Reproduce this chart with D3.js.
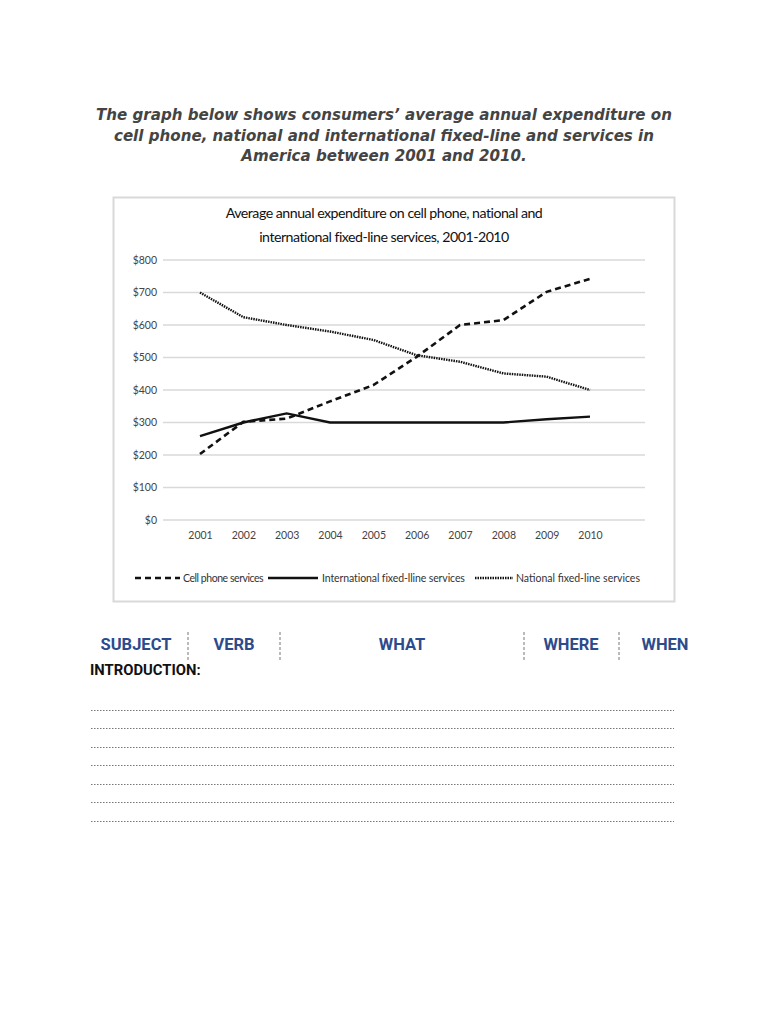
<!DOCTYPE html>
<html><head><meta charset="utf-8">
<script src="https://cdn.jsdelivr.net/npm/d3@7"></script>
<style>body{margin:0;background:#fff}</style>
</head><body>
<svg id="c" width="768" height="1024"></svg>
<script>
const years = [2001,2002,2003,2004,2005,2006,2007,2008,2009,2010];
const cellPhone = [203,302,312,365,415,502,600,615,702,742];
const international = [258,300,328,300,300,300,300,300,310,318];
const national = [700,624,600,580,554,507,487,451,441,400];
const yTicks = [0,100,200,300,400,500,600,700,800];
const seriesNames = ["Cell phone services","International fixed-lline services","National fixed-line services"];
const headers = ["SUBJECT","VERB","WHAT","WHERE","WHEN"];

const svg = d3.select("#c");
// intro text
const intro = ["The graph below shows consumers’ average annual expenditure on",
 "cell phone, national and international fixed-line and services in",
 "America between 2001 and 2010."];
svg.append("g").selectAll("text").data(intro).join("text")
 .attr("x",384).attr("y",(d,i)=>120+i*20.5).attr("text-anchor","middle")
 .attr("font-family","DejaVu Sans").attr("font-weight","bold").attr("font-style","italic")
 .attr("font-size",15.1).attr("fill","#444").text(d=>d);

// chart frame
svg.append("rect").attr("x",113.5).attr("y",197.5).attr("width",561).attr("height",404)
 .attr("fill","#fff").attr("stroke","#d9d9d9").attr("stroke-width",2);
const ct = ["Average annual expenditure on cell phone, national and","international fixed-line services, 2001-2010"];
svg.append("g").selectAll("text").data(ct).join("text")
 .attr("x",384).attr("y",(d,i)=>218+i*24).attr("text-anchor","middle")
 .attr("font-family","Lato").attr("font-size",14.2).attr("letter-spacing",-0.5)
 .attr("fill","#111").text(d=>d);

const x = d3.scalePoint().domain(years).range([200,590]);
const y = d3.scaleLinear().domain([0,800]).range([520,260]);

const grid = svg.append("g");
grid.selectAll("line").data(yTicks).join("line")
 .attr("x1",163).attr("x2",645).attr("y1",d=>y(d)).attr("y2",d=>y(d))
 .attr("stroke","#d9d9d9").attr("stroke-width",1.5);

const yAxis = svg.append("g").attr("transform","translate(163,0)")
 .call(d3.axisLeft(y).tickValues(yTicks).tickFormat(d=>"$"+d).tickSize(0).tickPadding(6));
yAxis.select(".domain").remove();
yAxis.selectAll("text").attr("font-family","Lato").attr("font-size",10.5).attr("fill","#444");

const xAxis = svg.append("g").attr("transform","translate(0,520)")
 .call(d3.axisBottom(x).tickFormat(d=>String(d)).tickSize(0).tickPadding(12));
xAxis.select(".domain").remove();
xAxis.selectAll("text").attr("font-family","Lato").attr("font-size",10.5).attr("fill","#444");

const line = d3.line().x((d,i)=>x(years[i])).y(d=>y(d));
const styles = [
 {data:cellPhone, dash:"6,4", w:2.6},
 {data:international, dash:null, w:2.4},
 {data:national, dash:"1.5,1", w:2.4}
];
styles.forEach(s=>{
 svg.append("path").datum(s.data).attr("d",line).attr("fill","none")
  .attr("stroke","#111").attr("stroke-width",s.w).attr("stroke-dasharray",s.dash);
});

// legend
const leg = [{x1:135,x2:180,tx:183,ls:-0.45},{x1:268,x2:318,tx:322,ls:-0.1},{x1:475,x2:513,tx:516,ls:0}];
leg.forEach((l,i)=>{
 svg.append("line").attr("x1",l.x1).attr("x2",l.x2).attr("y1",578).attr("y2",578)
  .attr("stroke","#111").attr("stroke-width",styles[i].w).attr("stroke-dasharray",styles[i].dash);
 svg.append("text").attr("x",l.tx).attr("y",582).attr("font-family","Lato").attr("font-size",10.5)
  .attr("letter-spacing",l.ls).attr("fill","#333").text(seriesNames[i]);
});

// headers
const hx = [136,234,402,571,665];
svg.append("g").selectAll("text").data(headers).join("text")
 .attr("x",(d,i)=>hx[i]).attr("y",650).attr("text-anchor","middle")
 .attr("font-family","Roboto").attr("font-weight","bold").attr("font-size",16.5)
 .attr("fill","#2d4b8c").text(d=>d);
const sep = [188,280,524,619];
svg.append("g").selectAll("line").data(sep).join("line")
 .attr("x1",d=>d).attr("x2",d=>d).attr("y1",632).attr("y2",660)
 .attr("stroke","#777").attr("stroke-width",1).attr("stroke-dasharray","3,2");
svg.append("text").attr("x",90).attr("y",675).attr("font-family","Roboto").attr("font-weight","bold")
 .attr("font-size",14.8).attr("fill","#111").text("INTRODUCTION:");

// dotted writing lines
const rows = [710,728,747,765,784,802,821];
svg.append("g").selectAll("line").data(rows).join("line")
 .attr("x1",91).attr("x2",674).attr("y1",d=>d+0.5).attr("y2",d=>d+0.5)
 .attr("stroke","#777").attr("stroke-width",1.2).attr("stroke-dasharray","1.5,1.5");
</script>
</body></html>
